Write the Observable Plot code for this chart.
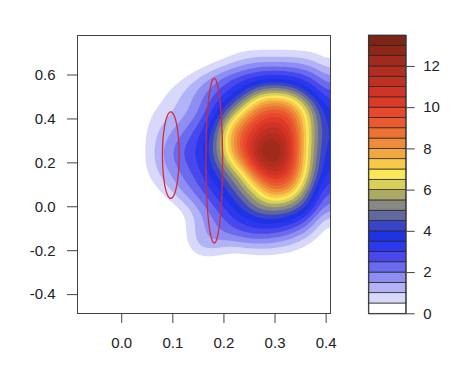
<!DOCTYPE html>
<html><head><meta charset="utf-8">
<script src="https://cdn.jsdelivr.net/npm/d3@7"></script>
<script src="https://cdn.jsdelivr.net/npm/@observablehq/plot@0.6"></script>
<style>
body{margin:0;background:#fff;}
#wrap{position:relative;width:474px;height:379px;font-family:"Liberation Sans",Arial,sans-serif;}
#main{position:absolute;left:0;top:0;}
#key{position:absolute;left:340px;top:0;}
</style></head><body><div id="wrap"><div id="main"></div><div id="key"></div></div>
<script>
// grid of estimated density values (columns = gridX, rows = gridY from top to bottom)
const gridX = [0, 0.03, 0.06, 0.09, 0.12, 0.15, 0.18, 0.21, 0.24, 0.27, 0.30, 0.33, 0.36, 0.39, 0.42, 0.45];
const gridY = [0.75, 0.70, 0.65, 0.60, 0.55, 0.50, 0.45, 0.40, 0.35, 0.30, 0.25, 0.20, 0.15, 0.10, 0.05, 0.00, -0.05, -0.10, -0.15, -0.20, -0.25, -0.30];
const density = [
  [0,0,0,0,0,0,0,0,0,0,0,0,0,0,0,0],
  [0,0,0,0,0,0,0,0.2,0.55,0.6,0.6,0.6,0.55,0.3,0.1,0],
  [0,0,0,0,0,0,0.45,0.9,1.3,1.6,1.6,1.6,1.4,0.9,0.4,0.1],
  [0,0,0,0,0.25,0.9,1.5,2.1,2.6,3.0,3.1,3.0,2.6,1.8,1.0,0.4],
  [0,0,0,0.3,0.8,1.4,2.1,2.8,3.5,4.1,4.3,4.1,3.4,2.5,1.6,0.8],
  [0,0,0,0.65,1.1,1.8,2.6,3.4,4.6,6.8,7.1,6.8,4.8,3.3,2.2,1.2],
  [0,0,0.4,0.8,1.2,1.8,3.0,4.4,6.6,8.6,9.3,8.6,6.4,3.9,2.6,1.4],
  [0,0,0.6,1.0,1.5,2.2,3.5,5.9,8.2,9.9,10.5,9.8,6.9,4.3,2.9,1.6],
  [0,0,0.8,1.3,1.9,2.7,4.0,7.3,9.4,11.0,11.6,10.6,6.9,4.4,3.0,1.7],
  [0,0,0.9,1.6,2.3,3.0,4.3,7.4,10.0,11.9,12.5,11.0,6.9,4.4,3.0,1.7],
  [0,0,0.9,1.8,2.6,3.1,4.4,7.1,9.8,12.5,13.3,11.0,6.8,4.2,2.9,1.6],
  [0,0,0.9,1.7,2.4,3.0,4.2,6.1,8.7,11.6,12.6,10.6,6.8,4.0,2.8,1.5],
  [0,0,0.7,1.4,2.1,2.8,3.8,5.0,6.6,10.0,11.5,10.0,6.5,3.8,2.6,1.4],
  [0,0,0.35,1.1,1.8,2.5,3.4,4.4,5.7,7.6,9.8,8.8,5.8,3.2,2.2,1.2],
  [0,0,0,0.55,1.4,2.1,2.9,3.8,4.9,6.4,7.6,7.0,5.0,2.6,1.8,1.0],
  [0,0,0,0,0.6,1.6,2.5,3.3,4.3,5.3,5.5,5.2,4.2,2.2,1.4,0.7],
  [0,0,0,0,0.2,1.2,2.0,2.8,3.4,4.0,4.1,3.8,2.9,1.1,0.35,0],
  [0,0,0,0,0.2,1.3,1.9,2.3,2.9,3.1,3.0,2.6,1.8,0.45,0,0],
  [0,0,0,0,0.15,1.3,1.6,1.6,1.9,2.0,1.8,1.4,0.8,0.1,0,0],
  [0,0,0,0,0,1.0,0.9,0.45,0.55,0.7,0.7,0.5,0.2,0,0,0],
  [0,0,0,0,0,0,0,0,0,0,0,0,0,0,0,0],
  [0,0,0,0,0,0,0,0,0,0,0,0,0,0,0,0]
];
const levels = [0,0.5,1,1.5,2,2.5,3,3.5,4,4.5,5,5.5,6,6.5,7,7.5,8,8.5,9,9.5,10,10.5,11,11.5,12,12.5,13,13.5];
const levelColors = ["#ffffff","#d8d8fa","#b2b2f6","#8e8ef2","#6a6aee","#4848ec","#2c38ee","#1e32e6","#3a44c6","#60689e","#888884","#aca866","#d8d058","#fbe858","#f7c84a","#f2a842","#ee8c3a","#ec7234","#ea5a30","#e8482c","#de3a28","#cf3424","#c03022","#b02d1f","#a02a1c","#8e2618","#7c2415"];
const keyTicks = [0, 2, 4, 6, 8, 10, 12];
const xTicks = [0, 0.1, 0.2, 0.3, 0.4];
const yTicks = [-0.4, -0.2, 0, 0.2, 0.4, 0.6];
const ellipseCX = [0.096, 0.181];
const ellipseCY = [0.235, 0.21];
const ellipseRX = [0.0163, 0.0163];
const ellipseRY = [0.197, 0.375];

const table = [];
gridY.forEach((y, i) => gridX.forEach((x, j) => table.push({x, y, v: density[i][j]})));

const ellPts = [];
ellipseCX.forEach((cx, k) => {
  for (let a = 0; a <= 360; a += 3) {
    const t = a * Math.PI / 180;
    ellPts.push({k, x: cx + ellipseRX[k] * Math.cos(t), y: ellipseCY[k] + ellipseRY[k] * Math.sin(t)});
  }
});

const xDom = [-0.0865, 0.4085], yDom = [-0.486, 0.78];
const colorScale = {type: "threshold", domain: levels.slice(1, -1), range: levelColors};
const fmt = d => d.toFixed(1);
const font = "Liberation Sans, Arial, sans-serif";

const main = Plot.plot({
  width: 340, height: 379,
  marginLeft: 77, marginRight: 10, marginTop: 35, marginBottom: 66,
  style: {fontFamily: font, fontSize: "15px", color: "#222", background: "white"},
  x: {domain: xDom},
  y: {domain: yDom},
  color: colorScale,
  marks: [
    Plot.contour(table, {x: "x", y: "y", fill: "v", thresholds: levels.slice(1, -1), interpolate: "barycentric",
      x1: xDom[0], x2: xDom[1], y1: yDom[0], y2: yDom[1], blur: 3, clip: true}),
    Plot.line(ellPts, {x: "x", y: "y", z: "k", stroke: "#d42a3c", strokeWidth: 1.3}),
    Plot.frame({stroke: "#444"}),
    Plot.axisX({ticks: xTicks, tickFormat: fmt, tickSize: 10, tickPadding: 14, label: null, stroke: "#444"}),
    Plot.axisY({ticks: yTicks, tickFormat: fmt, tickSize: 10, tickPadding: 12, label: null, stroke: "#444"})
  ]
});
document.getElementById("main").appendChild(main);

const bands = levels.slice(0, -1).map((lo, i) => ({lo, hi: levels[i + 1]}));
const key = Plot.plot({
  width: 134, height: 379,
  marginLeft: 28.3, marginRight: 68.3, marginTop: 35, marginBottom: 65.7,
  style: {fontFamily: font, fontSize: "15px", color: "#222", background: "white"},
  x: {domain: [0, 1], axis: null},
  y: {domain: [0, 13.5]},
  color: colorScale,
  marks: [
    Plot.rect(bands, {x1: () => 0, x2: () => 1, y1: "lo", y2: "hi", fill: "lo", stroke: "#222", strokeWidth: 0.7}),
    Plot.frame({stroke: "#333"}),
    Plot.axisY({anchor: "right", ticks: keyTicks, tickFormat: d => String(d), tickSize: 8, tickPadding: 9, label: null, stroke: "#444"})
  ]
});
document.getElementById("key").appendChild(key);
</script></body></html>
